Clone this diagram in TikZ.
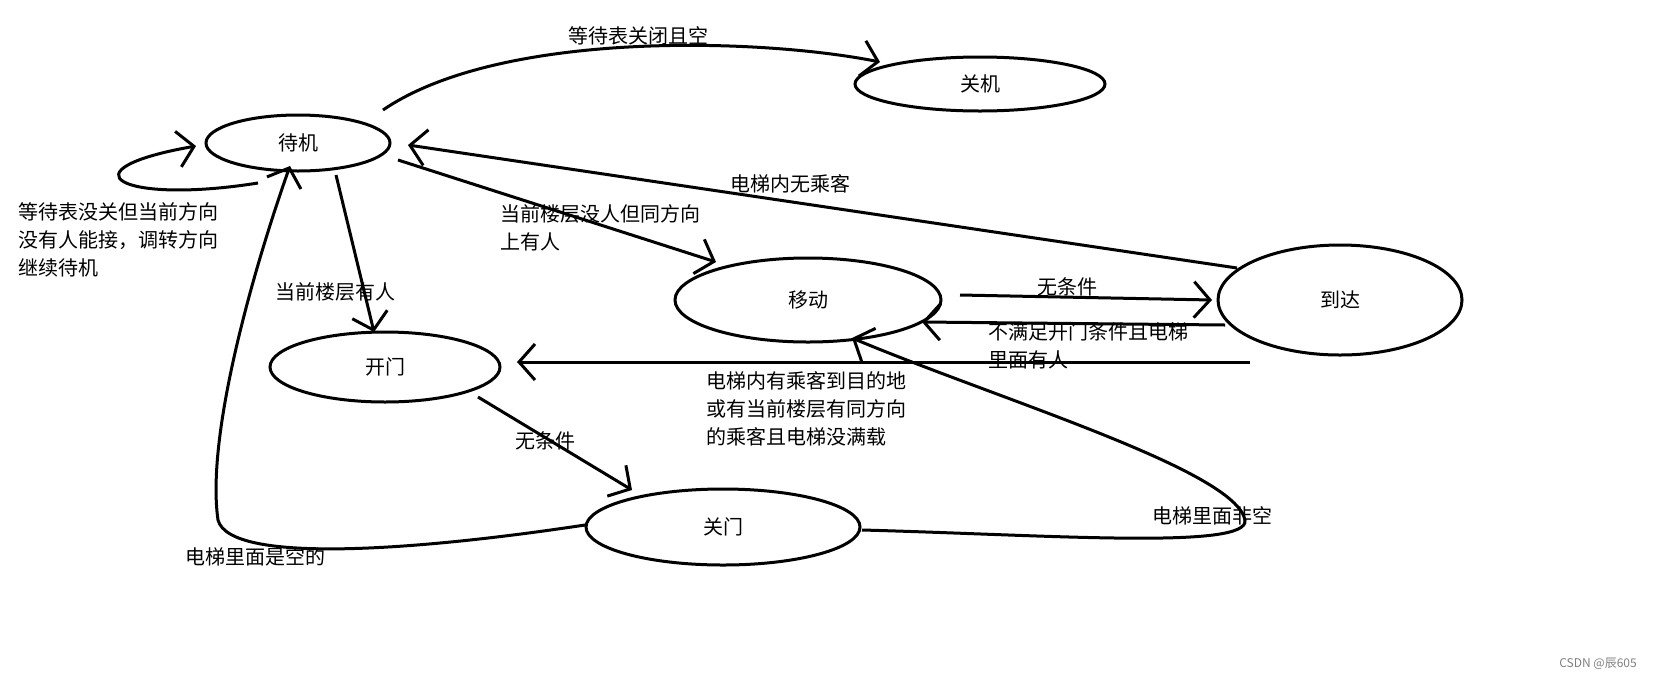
\documentclass[tikz,border=0pt]{standalone}
\usepackage{fontspec}
\setmainfont{Noto Sans CJK SC}
\usetikzlibrary{arrows.meta,shapes.geometric}
\begin{document}
\begin{tikzpicture}[x=1pt,y=-1pt,
  st/.style={draw,ellipse,line width=3pt,inner sep=0pt,font=\fontsize{20}{24}\selectfont},
  ar/.style={line width=3pt,-{Straight Barb[length=16pt,width=36pt,line width=3pt]}},
  lb/.style={font=\fontsize{20}{28}\selectfont,align=left,inner sep=0pt}]
\fill[white] (0,0) rectangle (1656,686);
\useasboundingbox (0,0) rectangle (1656,686);
\node[st,minimum width=184pt,minimum height=56pt] (dj) at (298,143) {待机};
\node[st,minimum width=250pt,minimum height=54pt] (gj) at (980,84) {关机};
\node[st,minimum width=266pt,minimum height=84pt] (yd) at (808,300) {移动};
\node[st,minimum width=244pt,minimum height=110pt] (dd) at (1340,300) {到达};
\node[st,minimum width=230pt,minimum height=70pt] (km) at (385,367) {开门};
\node[st,minimum width=274pt,minimum height=76pt] (gm) at (723,527) {关门};
\coordinate (a1) at (383,110);
\coordinate (a2) at (880,62);
\draw[ar] (a1) .. controls (500,30) and (760,38) .. (a2);
\node[lb] (l1) at (638,36) {等待表关闭且空};
\coordinate (s1) at (258,183);
\coordinate (s2) at (196,146);
\draw[ar] (s1) .. controls (120,205) and (60,170) .. (s2);
\node[lb,anchor=north west] (l2) at (18,202) {等待表没关但当前方向\\没有人能接，调转方向\\继续待机};
\draw[ar] (336,175) -- (374,332);
\node[lb] (l3) at (335,292) {当前楼层有人};
\draw[ar] (398,160) -- (716,262);
\node[lb,anchor=north west] (l4) at (500,204) {当前楼层没人但同方向\\上有人};
\draw[ar] (1237,268) -- (408,145);
\node[lb] (l5) at (790,184) {电梯内无乘客};
\draw[ar] (960,295) -- (1212,300);
\node[lb] (l6) at (1067,287) {无条件};
\draw[ar] (1225,325) -- (922,322);
\node[lb,anchor=north west] (l7) at (988,322) {不满足开门条件且电梯\\里面有人};
\draw[ar] (1250,362) -- (517,362);
\node[lb,anchor=north west] (l8) at (706,371) {电梯内有乘客到目的地\\或有当前楼层有同方向\\的乘客且电梯没满载};
\draw[ar] (478,397) -- (632,490);
\node[lb] (l9) at (545,441) {无条件};
\draw[ar] (862,530) .. controls (1050,535) and (1250,550) .. (1245,520) .. controls (1235,470) and (1000,400) .. (852,338);
\node[lb] (l10) at (1212,516) {电梯里面非空};
\draw[ar] (585,525) .. controls (420,550) and (230,565) .. (218,520) .. controls (205,430) and (260,250) .. (290,166);
\node[lb] (l11) at (255,557) {电梯里面是空的};
\node[font=\fontsize{12}{14}\selectfont,text=gray] (wm) at (1598,664) {CSDN @辰605};
\end{tikzpicture}
\end{document}
